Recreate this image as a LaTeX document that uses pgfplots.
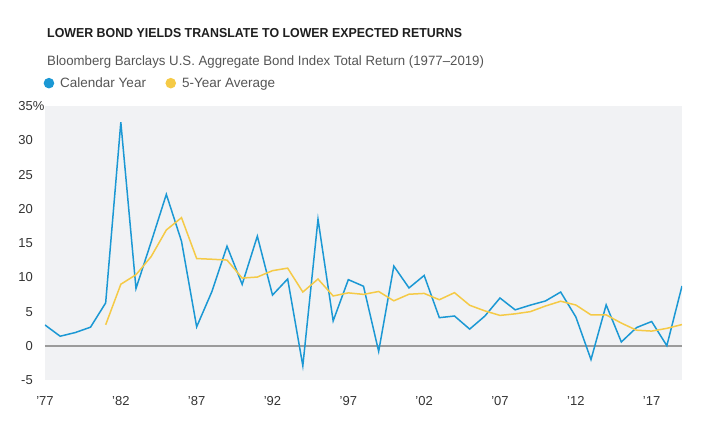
\documentclass[border=0pt]{standalone}
\usepackage{fontspec}
\setmainfont{Liberation Sans}
\newfontfamily\titlefont[FakeStretch=0.952]{Liberation Sans}
\newfontfamily\subfont[FakeStretch=0.98]{Liberation Sans}
\usepackage{pgfplots}
\usepackage{pgfplotstable}
\pgfplotsset{compat=1.18}
\definecolor{lpblue}{RGB}{27,152,212}
\definecolor{lpyellow}{RGB}{245,202,70}
\definecolor{plotbg}{RGB}{241,242,244}
\definecolor{zeroline}{RGB}{155,155,155}
\definecolor{labeltext}{RGB}{51,51,51}
\definecolor{titletext}{RGB}{30,30,30}
\definecolor{subtext}{RGB}{85,85,85}

% calendar-year total return, %
\pgfplotstableread{
year ret
1977 3.03
1978 1.39
1979 1.93
1980 2.71
1981 6.25
1982 32.62
1983 8.36
1984 15.15
1985 22.10
1986 15.26
1987 2.76
1988 7.89
1989 14.53
1990 8.96
1991 16.00
1992 7.40
1993 9.75
1994 -2.92
1995 18.47
1996 3.63
1997 9.65
1998 8.69
1999 -0.82
2000 11.63
2001 8.44
2002 10.26
2003 4.10
2004 4.34
2005 2.43
2006 4.33
2007 6.97
2008 5.24
2009 5.93
2010 6.54
2011 7.84
2012 4.21
2013 -2.02
2014 5.97
2015 0.55
2016 2.65
2017 3.54
2018 0.01
2019 8.72
}\calendar

% trailing 5-year average, %
\pgfplotstableread{
year avg
1981 3.06
1982 8.98
1983 10.37
1984 13.02
1985 16.90
1986 18.70
1987 12.73
1988 12.63
1989 12.51
1990 9.88
1991 10.03
1992 10.96
1993 11.33
1994 7.84
1995 9.74
1996 7.27
1997 7.72
1998 7.50
1999 7.92
2000 6.56
2001 7.52
2002 7.64
2003 6.72
2004 7.75
2005 5.91
2006 5.09
2007 4.43
2008 4.66
2009 4.98
2010 5.80
2011 6.50
2012 5.95
2013 4.50
2014 4.51
2015 3.31
2016 2.27
2017 2.14
2018 2.54
2019 3.09
}\fiveyr

\begin{document}
\begin{tikzpicture}
\useasboundingbox (-45pt,-44pt) rectangle (660pt,380pt);
\begin{axis}[
    at={(0pt,0pt)}, anchor=south west,
    scale only axis,
    width=637pt, height=274pt,
    xmin=1977, xmax=2019,
    ymin=-5, ymax=35,
    axis background/.style={fill=plotbg},
    axis line style={draw=none},
    tick style={draw=none},
    xtick={1977,1982,...,2017},
    xticklabels={’77,’82,’87,’92,’97,’02,’07,’12,’17},
    ytick={-5,0,...,35},
    yticklabels={-5,0,5,10,15,20,25,30,35\rlap{\%}},
    /pgf/number format/assume math mode=true,
    ticklabel style={font=\fontsize{13}{15}\selectfont, text=labeltext, inner sep=0pt},
    xticklabel style={anchor=base, yshift=-25pt},
    yticklabel style={anchor=base east, xshift=-12pt, yshift=-4.7pt},
    legend columns=2,
    legend image code/.code={\fill[#1] (0pt,0pt) circle (4.5pt);},
    legend style={
        at={(axis description cs:0,1)}, anchor=south west,
        xshift=-1.5pt, yshift=15pt,
        draw=none, fill=none, inner sep=0pt,
        font=\fontsize{13.5}{15}\selectfont, text=subtext,
        /tikz/every odd column/.append style={column sep=4pt},
        /tikz/every even column/.append style={column sep=17.5pt},
    },
]
\addplot[color=zeroline, line width=1.6pt, forget plot] coordinates {(1977,0) (2019,0)};
\addplot[color=lpblue, line width=1.5pt] table[x=year, y=ret] {\calendar};
\addlegendentry{Calendar Year}
\addplot[color=lpyellow, line width=1.5pt] table[x=year, y=avg] {\fiveyr};
\addlegendentry{5-Year Average}
\end{axis}
\node[anchor=base west, inner sep=0pt, text=titletext,
      font=\titlefont\bfseries\fontsize{13}{15}\selectfont] at (2pt,342pt)
      {LOWER BOND YIELDS TRANSLATE TO LOWER EXPECTED RETURNS};
\node[anchor=base west, inner sep=0pt, text=subtext,
      font=\subfont\fontsize{13.5}{15}\selectfont] at (2pt,314pt)
      {Bloomberg Barclays U.S. Aggregate Bond Index Total Return (1977–2019)};
\end{tikzpicture}
\end{document}
